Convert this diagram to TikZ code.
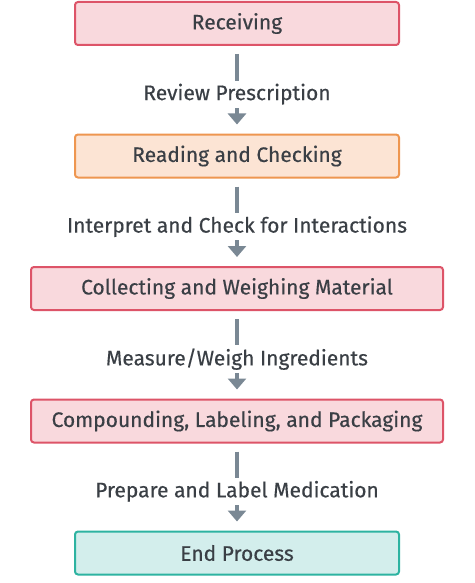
\documentclass[tikz,border=0pt]{standalone}
\usepackage{fontspec}
\setmainfont{Fira Sans}[FakeBold=0.4]
\usetikzlibrary{arrows.meta}
\definecolor{txt}{HTML}{3A3F45}
\definecolor{arr}{HTML}{7A8894}
\definecolor{redfill}{HTML}{F9D9DD}
\definecolor{reddraw}{HTML}{DD5468}
\definecolor{orfill}{HTML}{FCE4D4}
\definecolor{ordraw}{HTML}{EE9650}
\definecolor{tefill}{HTML}{D3EEEC}
\definecolor{tedraw}{HTML}{2DB3A1}
\tikzset{
  stepbox/.style={draw, line width=2pt, rounded corners=3pt, minimum height=43pt, text=txt, font=\fontsize{21}{23}\selectfont, inner sep=0pt},
  redbox/.style={stepbox, fill=redfill, draw=reddraw},
  orbox/.style={stepbox, fill=orfill, draw=ordraw},
  tebox/.style={stepbox, fill=tefill, draw=tedraw},
  conn/.style={draw=arr, line width=4.5pt, shorten <=8pt, shorten >=9pt, -{Triangle[width=18pt,length=11pt]}},
  lbl/.style={fill=white, text=txt, font=\fontsize{21}{23}\selectfont, inner ysep=3pt, inner xsep=2pt, pos=0.55}
}
\begin{document}
\begin{tikzpicture}[x=1pt,y=-1pt]
\useasboundingbox (0,0) rectangle (474,583);
\fill[white] (0,0) rectangle (474,583);
\node[redbox, minimum width=324pt] (a) at (237,23.5) {Receiving};
\node[orbox, minimum width=324pt] (b) at (237,156) {Reading and Checking};
\node[redbox, minimum width=412pt] (c) at (237,288.5) {Collecting and Weighing Material};
\node[redbox, minimum width=412pt] (d) at (237,421) {Compounding, Labeling, and Packaging};
\node[tebox, minimum width=324pt] (e) at (237,553) {End Process};
\draw[conn] (a) -- node[lbl] {Review Prescription} (b);
\draw[conn] (b) -- node[lbl] {Interpret and Check for Interactions} (c);
\draw[conn] (c) -- node[lbl] {Measure/Weigh Ingredients} (d);
\draw[conn] (d) -- node[lbl] {Prepare and Label Medication} (e);
\end{tikzpicture}
\end{document}
